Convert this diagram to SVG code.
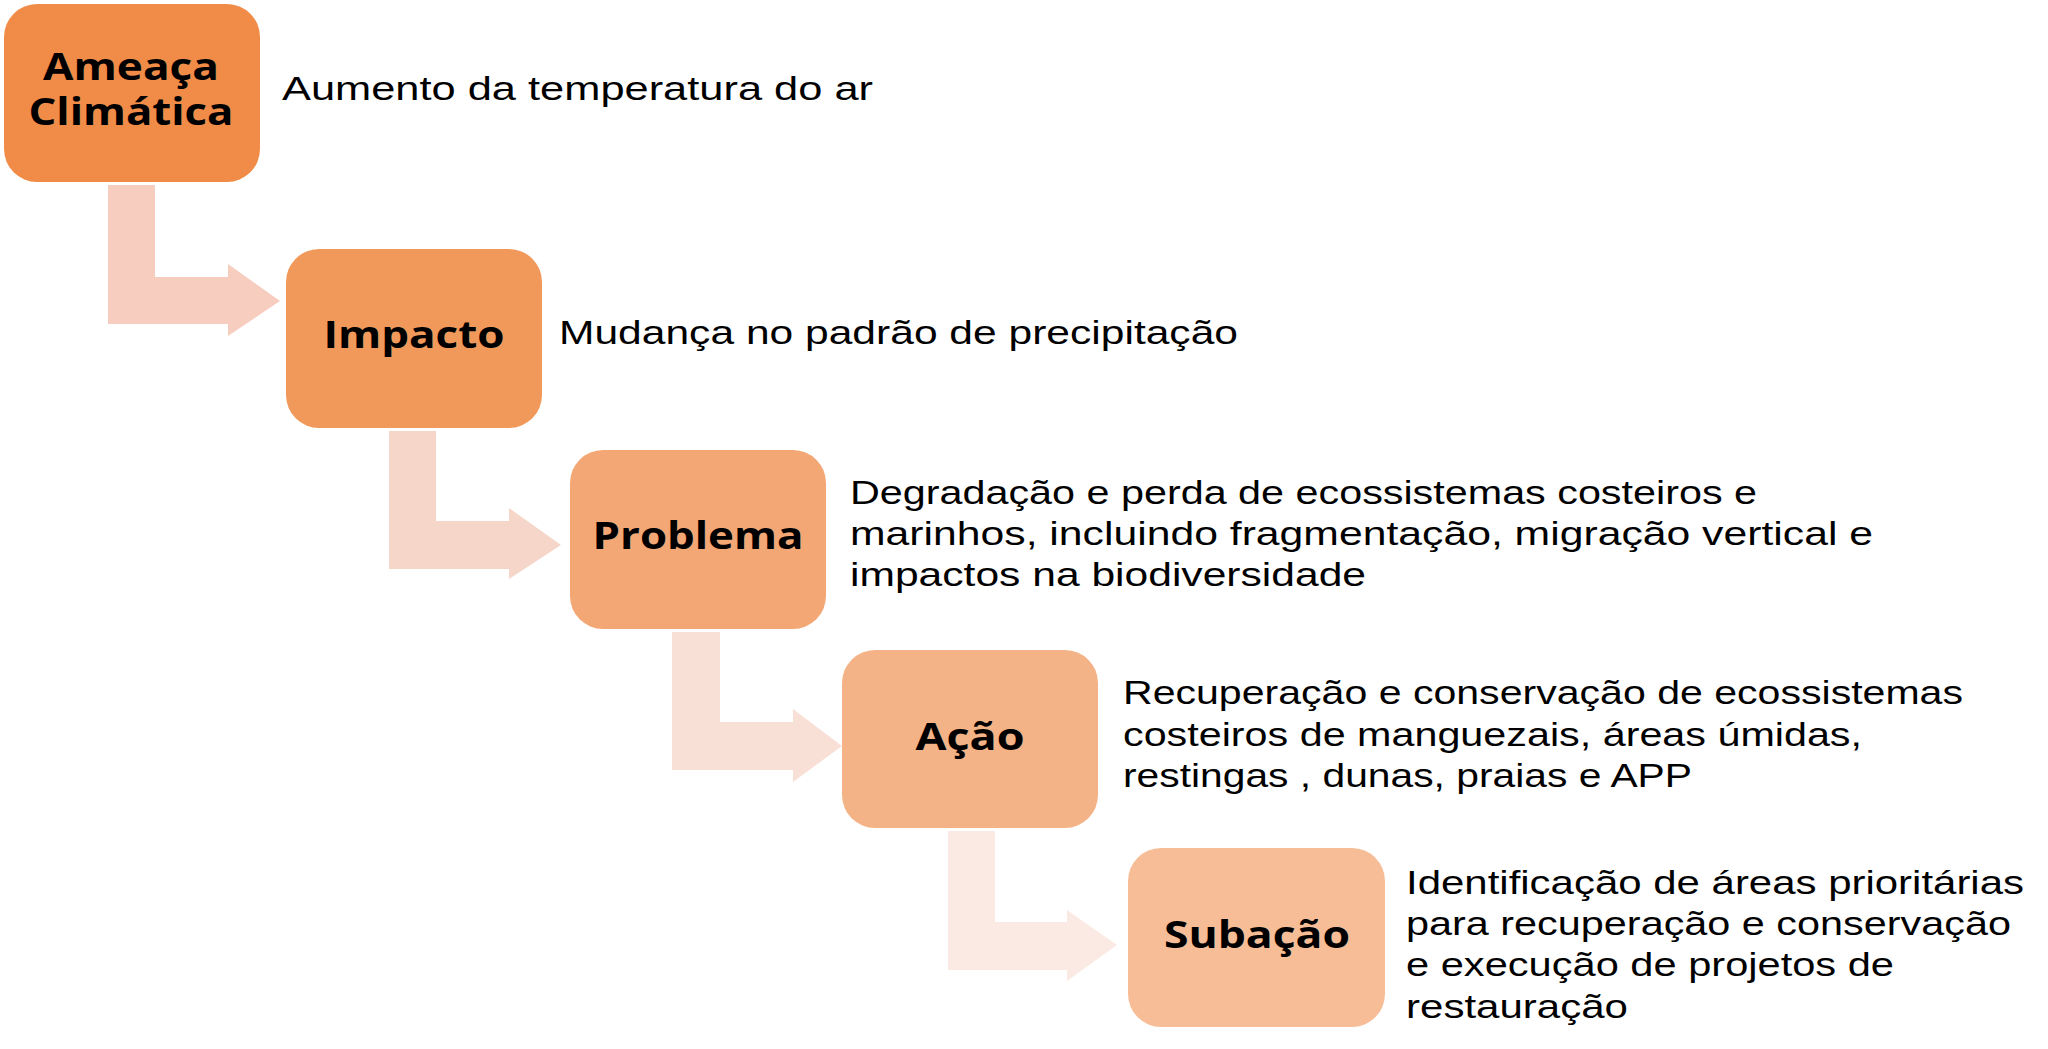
<svg xmlns="http://www.w3.org/2000/svg" width="2048" height="1049" viewBox="0 0 2048 1049">
<style>
.lbl{font-family:"Open Sans","Liberation Sans",sans-serif;font-weight:700;font-size:37px;fill:#000;text-anchor:middle}
.d{font-family:"Liberation Sans","Open Sans",sans-serif;font-weight:400;font-size:33px;fill:#000}
</style>
<rect width="2048" height="1049" fill="#fff"/>
<g id="connectors">
<path d="M108 185H155V277H228V264L280 301L228 336V324H108Z" fill="#F6CDBF"/>
<path d="M389 431H436V521H509V508L561 545L509 579V569H389Z" fill="#F7D6CA"/>
<path d="M672 632H720V722H793V709L842 746L793 782V770H672Z" fill="#F9E0D6"/>
<path d="M948 831H995V922H1067V910L1117 945L1067 981V970H948Z" fill="#FBEAE3"/>
</g>
<g id="n1"><rect x="4" y="4" width="256" height="178" rx="33" fill="#F08C48"/>
<text class="lbl" x="131" y="80" textLength="176" lengthAdjust="spacingAndGlyphs">Ameaça</text><text class="lbl" x="131" y="125" textLength="205" lengthAdjust="spacingAndGlyphs">Climática</text>
<text class="d" x="282" y="100" textLength="591" lengthAdjust="spacingAndGlyphs">Aumento da temperatura do ar</text></g>
<g id="n2"><rect x="286" y="249" width="256" height="179" rx="33" fill="#F0995A"/>
<text class="lbl" x="414" y="348" textLength="181" lengthAdjust="spacingAndGlyphs">Impacto</text>
<text class="d" x="559" y="344" textLength="679" lengthAdjust="spacingAndGlyphs">Mudança no padrão de precipitação</text></g>
<g id="n3"><rect x="570" y="450" width="256" height="179" rx="33" fill="#F2A775"/>
<text class="lbl" x="698" y="549" textLength="211" lengthAdjust="spacingAndGlyphs">Problema</text>
<text class="d" x="850" y="504" textLength="907" lengthAdjust="spacingAndGlyphs">Degradação e perda de ecossistemas costeiros e</text>
<text class="d" x="850" y="545" textLength="1023" lengthAdjust="spacingAndGlyphs">marinhos, incluindo fragmentação, migração vertical e</text>
<text class="d" x="850" y="586" textLength="516" lengthAdjust="spacingAndGlyphs">impactos na biodiversidade</text></g>
<g id="n4"><rect x="842" y="650" width="256" height="178" rx="33" fill="#F4B386"/>
<text class="lbl" x="970" y="750" textLength="109" lengthAdjust="spacingAndGlyphs">Ação</text>
<text class="d" x="1123" y="704" textLength="840" lengthAdjust="spacingAndGlyphs">Recuperação e conservação de ecossistemas</text>
<text class="d" x="1123" y="746" textLength="739" lengthAdjust="spacingAndGlyphs">costeiros de manguezais, áreas úmidas,</text>
<text class="d" x="1123" y="787" textLength="569" lengthAdjust="spacingAndGlyphs">restingas , dunas, praias e APP</text></g>
<g id="n5"><rect x="1128" y="848" width="257" height="179" rx="33" fill="#F6BD96"/>
<text class="lbl" x="1257" y="948" textLength="186" lengthAdjust="spacingAndGlyphs">Subação</text>
<text class="d" x="1406" y="894" textLength="618" lengthAdjust="spacingAndGlyphs">Identificação de áreas prioritárias</text>
<text class="d" x="1406" y="935" textLength="605" lengthAdjust="spacingAndGlyphs">para recuperação e conservação</text>
<text class="d" x="1406" y="976" textLength="488" lengthAdjust="spacingAndGlyphs">e execução de projetos de</text>
<text class="d" x="1406" y="1018" textLength="222" lengthAdjust="spacingAndGlyphs">restauração</text></g>
</svg>
